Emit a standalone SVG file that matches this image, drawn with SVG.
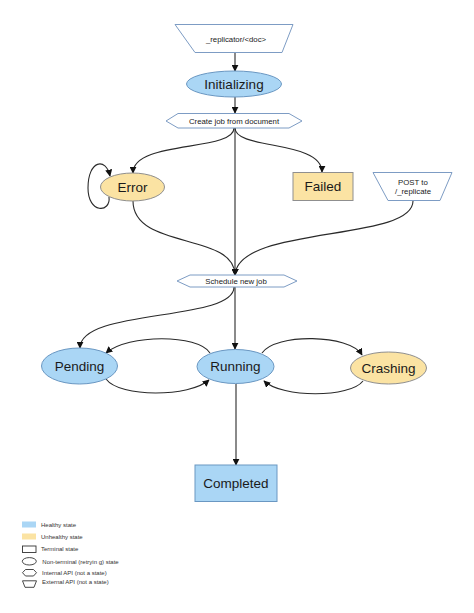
<svg xmlns="http://www.w3.org/2000/svg" width="474" height="613" viewBox="0 0 474 613">
<style>
  text { font-family: "Liberation Sans", Arial, sans-serif; fill: #1a1a1a; text-anchor: middle; dominant-baseline: central; }
  .big { font-size: 13.5px; }
  .small { font-size: 7.8px; }
  .leg { font-size: 6px; text-anchor: start; fill: #333; }
  .healthy { fill: #aad6f5; stroke: #6a97c2; stroke-width: 1; }
  .unhealthy { fill: #fbe3a3; stroke: #8f8f8f; stroke-width: 1; }
  .api { fill: #ffffff; stroke: #7d9cc4; stroke-width: 1; }
  .edge { fill: none; stroke: #2a2a2a; stroke-width: 1.1; marker-end: url(#arr); }
  .legshape { fill: #ffffff; stroke: #333; stroke-width: 0.9; }
</style>
<defs>
  <marker id="arr" viewBox="0 0 10 10" refX="9" refY="5" markerWidth="7" markerHeight="7" markerUnits="userSpaceOnUse" orient="auto">
    <path d="M0,0 L10,5 L0,10 z" fill="#111"/>
  </marker>
</defs>
<rect width="474" height="613" fill="#ffffff"/>

<g id="connectors">
  <path class="edge" d="M235,53 L235,71"/>
  <path class="edge" d="M235,97 L235,113"/>
  <path class="edge" d="M234,128 C234,152 133,140 133,173"/>
  <path class="edge" d="M235,128 C235,150 322,140 322,172"/>
  <path class="edge" d="M235,128 L235,275"/>
  <path class="edge" d="M109,197 C111,213 88,214 88,188 C88,160 106,157 110,176"/>
  <path class="edge" d="M133,201 C133,250 235,232 235,275"/>
  <path class="edge" d="M413,201 C413,242 238,225 235,275"/>
  <path class="edge" d="M235,287 L235,349"/>
  <path class="edge" d="M234,287 C234,322 80,308 80,348"/>
  <path class="edge" d="M210,353 C198,334 128,334 106,353"/>
  <path class="edge" d="M106,379 C120,398 190,397 209,380"/>
  <path class="edge" d="M262,353 C275,333 350,334 362,355"/>
  <path class="edge" d="M363,381 C350,398 282,398 264,381"/>
  <path class="edge" d="M236,384 L236,465"/>
</g>

<g id="replicator-doc">
  <polygon class="api" points="175,24.5 293,24.5 282,52.5 195,52.5"/>
  <text class="small" x="236" y="39">_replicator/&lt;doc&gt;</text>
</g>
<g id="initializing">
  <ellipse class="healthy" cx="234" cy="84" rx="47.5" ry="13"/>
  <text class="big" x="234" y="84">Initializing</text>
</g>
<g id="create-job">
  <polygon class="api" points="166,121 178,113.5 289,113.5 302,121 289,128 178,128"/>
  <text class="small" x="234" y="121">Create job from document</text>
</g>
<g id="error">
  <ellipse class="unhealthy" cx="132.5" cy="187" rx="32" ry="14"/>
  <text class="big" x="132.5" y="187">Error</text>
</g>
<g id="failed">
  <rect class="unhealthy" x="293" y="172.5" width="60" height="28"/>
  <text class="big" x="323" y="186.5">Failed</text>
</g>
<g id="post-replicate">
  <polygon class="api" points="373,172.5 452,172.5 440,200.5 388,200.5"/>
  <text class="small" x="413" y="182.5">POST to</text>
  <text class="small" x="413" y="191.5">/_replicate</text>
</g>
<g id="schedule-job">
  <polygon class="api" points="177,281 190,275 284,275 297,281 284,287 190,287"/>
  <text class="small" x="236" y="281">Schedule new job</text>
</g>
<g id="pending">
  <ellipse class="healthy" cx="79.5" cy="366" rx="38" ry="18"/>
  <text class="big" x="79.5" y="366">Pending</text>
</g>
<g id="running">
  <ellipse class="healthy" cx="235.5" cy="366.5" rx="38.5" ry="17"/>
  <text class="big" x="235.5" y="366.5">Running</text>
</g>
<g id="crashing">
  <ellipse class="unhealthy" cx="388.5" cy="368" rx="38" ry="16"/>
  <text class="big" x="388.5" y="368">Crashing</text>
</g>
<g id="completed">
  <rect class="healthy" x="195" y="465" width="82" height="36.5"/>
  <text class="big" x="236" y="483.5">Completed</text>
</g>

<g id="legend">
  <rect x="22" y="521.5" width="14" height="6" fill="#aad6f5"/>
  <text class="leg" x="41" y="524.5">Healthy state</text>
  <rect x="22" y="533.5" width="14" height="6" fill="#fbe3a3"/>
  <text class="leg" x="41" y="536.5">Unhealthy state</text>
  <rect class="legshape" x="22.5" y="546" width="13.5" height="6.5"/>
  <text class="leg" x="41" y="549.3">Terminal state</text>
  <ellipse class="legshape" cx="29.3" cy="561.3" rx="7" ry="3.7"/>
  <text class="leg" x="42.3" y="561.7">Non-terminal (retryin g) state</text>
  <polygon class="legshape" points="22.5,572.7 25.5,569.5 33.5,569.5 36.5,572.7 33.5,576 25.5,576"/>
  <text class="leg" x="42" y="572.7">Internal API (not a state)</text>
  <polygon class="legshape" points="22.5,580.8 36.5,580.8 34,587.3 25,587.3"/>
  <text class="leg" x="42" y="581.7">External API (not a state)</text>
</g>
</svg>
